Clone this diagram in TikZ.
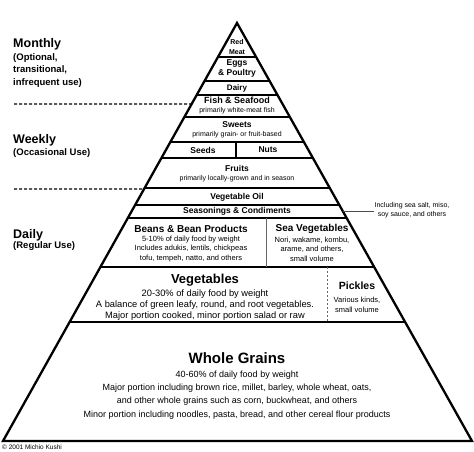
\documentclass[tikz,border=0pt]{standalone}
\usepackage{fontspec}
\setmainfont{Liberation Sans}
\usetikzlibrary{calc}

\tikzset{
  freqhead/.style={font=\bfseries\fontsize{12.5}{14}\selectfont, anchor=west, inner sep=0pt},
  freqnote/.style={font=\bfseries\fontsize{9.5}{12.5}\selectfont, anchor=north west, align=left, inner sep=0pt},
  tierhead/.style={font=\bfseries\fontsize{#1}{#1}\selectfont, inner sep=0pt, align=center},
  tierpair/.style 2 args={font=\bfseries\fontsize{#1}{#2}\selectfont, inner sep=0pt, align=center},
  tiernote/.style 2 args={font=\fontsize{#1}{#2}\selectfont, inner sep=0pt, align=center},
  tierline/.style={line width=1.1pt},
  divider/.style={black!60, line width=0.9pt},
  levelcut/.style={line width=1.4pt, dash pattern=on 3pt off 2pt},
}

\begin{document}
\begin{tikzpicture}[x=1pt, y=-1pt]
  \useasboundingbox (0,0) rectangle (474,452);
  \coordinate (apex) at (237,23);
  \coordinate (bl) at (3,441);
  \coordinate (br) at (472,441);

  % tiers
  \foreach \h in {57,81,95,117,142,158,188,205,218,267,322} {
    \pgfmathsetmacro\t{(\h-23)/418}
    \draw[tierline] ($(apex)!\t!(bl)$) -- ($(apex)!\t!(br)$);
  }
  \draw[tierline] (236,142) -- (236,158);
  \draw[divider] (266,218) -- (266,267);
  \draw[divider, dash pattern=on 1.5pt off 2.5pt] (327,267) -- (327,322);
  \draw[line width=2.3pt] (apex) -- (bl) -- (br) -- cycle;

  % frequency labels
  \node[freqhead] (monthly) at (13,44) {Monthly};
  \node[freqnote] (monthlynote) at (13,53) {(Optional,\\transitional,\\infrequent use)};
  \node[freqhead] (weekly) at (13,140) {Weekly};
  \node[freqnote] (weeklynote) at (13,148) {(Occasional Use)};
  \node[freqhead] (daily) at (13,235) {Daily};
  \node[freqnote] (dailynote) at (13,241) {(Regular Use)};
  \coordinate (monthlycut) at ($(apex)!{(104-23)/418}!(bl)$);
  \coordinate (weeklycut) at ($(apex)!{(189-23)/418}!(bl)$);
  \draw[levelcut] (14,104) -- (monthlycut);
  \draw[levelcut] (14,189) -- (weeklycut);

  % monthly foods
  \node[tierpair={7}{10}] (meat) at (237,47) {Red\\Meat};
  \node[tierpair={8.5}{10}] (eggs) at (237,68) {Eggs\\\& Poultry};
  \node[tierhead=8] (dairy) at (237,88) {Dairy};
  \node[tierhead=9] (fish) at (237,100) {Fish \& Seafood};
  \node[tiernote={7}{9}] (fishnote) at (237,111) {primarily white-meat fish};

  % weekly foods
  \node[tierhead=8.5] (sweets) at (237,125) {Sweets};
  \node[tiernote={7}{9}] (sweetsnote) at (237,135) {primarily grain- or fruit-based};
  \node[tierhead=8.5] (seeds) at (203,150) {Seeds};
  \node[tierhead=8.5] (nuts) at (268,150) {Nuts};
  \node[tierhead=8.5] (fruits) at (237,168) {Fruits};
  \node[tiernote={7}{9}] (fruitsnote) at (237,179) {primarily locally-grown and in season};

  % daily foods
  \node[tierhead=8.5] (oil) at (237,197) {Vegetable Oil};
  \node[tierhead=8.5] (seasoning) at (237,211) {Seasonings \& Condiments};
  \node[tiernote={7}{9}] (seasonnote) at (412,210) {Including sea salt, miso,\\soy sauce, and others};
  \coordinate (seasonedge) at ($(apex)!{(211-23)/418}!(br)$);
  \draw[black!70, line width=0.9pt] (seasonedge) -- (seasonnote.west |- seasonedge);

  \node[tierhead=10] (beans) at (191,229) {Beans \& Bean Products};
  \node[tiernote={7.5}{9.5}] (beansnote) at (191,249) {5-10\% of daily food by weight\\Includes adukis, lentils, chickpeas\\tofu, tempeh, natto, and others};
  \node[tierhead=10] (seaveg) at (312,229) {Sea Vegetables};
  \node[tiernote={7.5}{9.5}] (seavegnote) at (312,249) {Nori, wakame, kombu,\\arame, and others,\\small volume};

  \node[tierhead=13] (veg) at (205,280) {Vegetables};
  \node[tiernote={9.3}{11}] (vegnote) at (205,305) {20-30\% of daily food by weight\\A balance of green leafy, round, and root vegetables.\\Major portion cooked, minor portion salad or raw};
  \node[tierhead=10.5] (pickles) at (357,286) {Pickles};
  \node[tiernote={7.5}{10}] (picklesnote) at (357,305) {Various kinds,\\small volume};

  \node[tierhead=15] (grains) at (237,358) {Whole Grains};
  \node[tiernote={9}{13.3}] (grainsnote) at (237,395) {40-60\% of daily food by weight\\Major portion including brown rice, millet, barley, whole wheat, oats,\\and other whole grains such as corn, buckwheat, and others\\Minor portion including noodles, pasta, bread, and other cereal flour products};

  \node[tiernote={6.5}{8}, anchor=west] (credit) at (2,447) {© 2001 Michio Kushi};
\end{tikzpicture}
\end{document}
